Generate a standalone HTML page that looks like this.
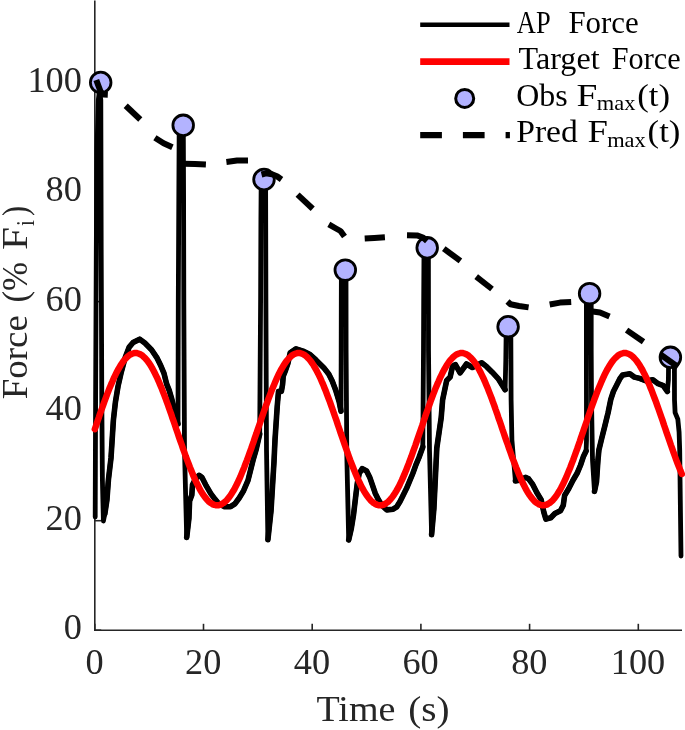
<!DOCTYPE html>
<html><head><meta charset="utf-8"><style>
html,body{margin:0;padding:0;background:#fff;}
svg{display:block;}
text{font-family:"Liberation Serif",serif;fill:#262626;}
.t{font-size:36.3px;}
.l{font-size:36.7px;}
.sub{font-size:26px;}
.g{font-size:31.5px;fill:#000;}
.gs{font-size:21.5px;fill:#000;}
</style></head><body>
<svg width="685" height="730" viewBox="0 0 685 730">
<line x1="94.8" y1="0.5" x2="94.8" y2="630.2" stroke="#262626" stroke-width="1.6"/>
<line x1="94" y1="630.2" x2="682" y2="630.2" stroke="#262626" stroke-width="1.6"/>
<line x1="94.8" y1="630.2" x2="101.2" y2="630.2" stroke="#262626" stroke-width="1.6"/>
<line x1="94.8" y1="630.2" x2="94.8" y2="623.8" stroke="#262626" stroke-width="1.6"/>
<line x1="94.8" y1="520.7" x2="101.2" y2="520.7" stroke="#262626" stroke-width="1.6"/>
<line x1="203.5" y1="630.2" x2="203.5" y2="623.8" stroke="#262626" stroke-width="1.6"/>
<line x1="94.8" y1="411.1" x2="101.2" y2="411.1" stroke="#262626" stroke-width="1.6"/>
<line x1="312.2" y1="630.2" x2="312.2" y2="623.8" stroke="#262626" stroke-width="1.6"/>
<line x1="94.8" y1="301.6" x2="101.2" y2="301.6" stroke="#262626" stroke-width="1.6"/>
<line x1="420.9" y1="630.2" x2="420.9" y2="623.8" stroke="#262626" stroke-width="1.6"/>
<line x1="94.8" y1="192.0" x2="101.2" y2="192.0" stroke="#262626" stroke-width="1.6"/>
<line x1="529.6" y1="630.2" x2="529.6" y2="623.8" stroke="#262626" stroke-width="1.6"/>
<line x1="94.8" y1="82.5" x2="101.2" y2="82.5" stroke="#262626" stroke-width="1.6"/>
<line x1="638.3" y1="630.2" x2="638.3" y2="623.8" stroke="#262626" stroke-width="1.6"/>
<text x="81.9" y="639.2" text-anchor="end" class="t">0</text>
<text x="94.5" y="674.3" text-anchor="middle" class="t">0</text>
<text x="81.9" y="529.7" text-anchor="end" class="t">20</text>
<text x="203.2" y="674.3" text-anchor="middle" class="t">20</text>
<text x="81.9" y="420.1" text-anchor="end" class="t">40</text>
<text x="311.9" y="674.3" text-anchor="middle" class="t">40</text>
<text x="81.9" y="310.6" text-anchor="end" class="t">60</text>
<text x="420.6" y="674.3" text-anchor="middle" class="t">60</text>
<text x="81.9" y="201.0" text-anchor="end" class="t">80</text>
<text x="529.3" y="674.3" text-anchor="middle" class="t">80</text>
<text x="81.9" y="91.5" text-anchor="end" class="t">100</text>
<text x="638.0" y="674.3" text-anchor="middle" class="t">100</text>
<polyline points="95.2,517.0 95.6,400.0 96.3,250.0 97.0,150.0 98.3,100.0 99.5,90.0 100.8,100.0 101.2,250.0 101.8,400.0 102.4,480.0 103.4,521.0 104.8,514.0 106.9,500.0 108.4,480.0 111.0,458.0 113.4,420.0 115.4,402.3 118.0,386.5 121.3,372.0 125.2,357.6 129.2,347.1 133.1,342.5 139.7,339.2 144.9,343.1 151.5,349.7 156.8,357.6 160.7,365.5 164.0,373.4 166.6,383.9 169.2,390.4 171.9,399.6 173.8,407.5 175.8,416.7 178.0,424.0 178.3,300.0 178.8,200.0 179.2,125.0 183.3,125.0 183.6,200.0 183.8,300.0 184.5,450.0 186.7,537.4 188.9,518.4 189.6,500.9 191.8,495.0 192.5,484.8 195.4,479.0 199.1,475.3 202.0,477.5 205.7,484.8 210.8,493.6 215.1,499.4 218.8,503.8 224.6,506.7 230.5,506.7 234.9,503.8 239.2,498.0 243.6,490.7 248.0,480.4 250.9,468.8 253.1,460.0 256.0,450.0 259.7,434.0 260.6,300.0 260.9,220.0 261.2,180.0 265.6,180.0 265.9,300.0 266.5,450.0 267.9,539.7 271.0,511.0 274.0,461.6 275.0,440.0 277.3,405.4 278.5,391.4 281.4,391.4 282.6,384.4 283.2,376.2 285.5,370.4 287.9,363.4 290.2,352.8 296.0,348.8 303.0,351.1 310.0,354.6 315.9,359.9 319.4,363.4 324.0,368.0 328.7,373.9 332.2,380.9 335.7,390.2 339.2,401.9 341.0,411.2 341.2,350.0 341.3,300.0 341.4,270.0 346.0,270.0 346.1,350.0 346.8,455.0 348.7,540.0 351.2,529.0 353.6,514.2 355.5,498.1 357.3,483.4 359.2,473.5 362.3,468.6 366.6,471.0 369.7,477.2 372.7,485.8 375.2,493.2 378.3,499.4 382.0,505.5 386.9,509.9 393.1,509.2 396.8,506.8 399.9,501.8 402.9,495.7 406.6,488.3 409.7,480.9 412.8,473.5 415.9,464.9 419.0,457.5 422.8,447.0 423.5,350.0 423.7,300.0 424.0,250.0 428.4,250.0 428.5,350.0 429.5,450.0 431.6,534.7 433.9,508.4 436.8,448.0 441.2,417.6 442.6,400.0 446.7,380.4 450.2,376.9 452.5,366.4 455.4,364.6 460.1,372.8 466.5,364.0 472.4,367.5 481.7,362.8 486.4,366.4 492.2,372.2 498.6,379.2 505.1,389.7 505.8,360.0 506.2,330.0 510.8,330.0 511.1,400.0 511.9,440.0 515.4,480.9 518.9,480.2 525.8,477.4 528.6,478.8 532.7,484.4 536.9,492.7 541.1,499.6 543.8,512.1 545.9,519.1 550.8,517.7 554.9,513.5 560.5,510.7 563.3,505.2 564.6,495.5 568.8,488.5 573.0,480.2 577.1,473.3 580.6,465.0 583.4,456.6 586.1,451.1 586.5,440.0 586.4,350.0 586.4,300.0 591.2,300.0 591.2,350.0 591.5,400.0 592.5,460.0 594.5,491.3 596.5,481.6 597.9,460.8 598.9,450.0 601.6,438.8 604.9,425.7 608.1,412.6 610.8,399.4 613.4,391.5 616.7,385.0 620.0,378.4 622.6,375.1 629.8,373.8 634.4,377.1 639.7,378.4 646.2,381.0 652.8,379.7 658.1,383.7 663.3,385.6 667.3,391.5 668.4,380.0 668.6,360.0 674.4,360.0 674.5,400.0 675.1,412.6 677.8,419.1 679.1,432.3 679.7,450.0 680.3,500.0 681.0,556.0" fill="none" stroke="#000" stroke-width="4.8" stroke-linejoin="round" stroke-linecap="round"/>
<polyline points="104.8,514.0 106.9,500.0 108.4,480.0 111.0,458.0 113.4,420.0 115.4,402.3 118.0,386.5 121.3,372.0 125.2,357.6 129.2,347.1 133.1,342.5 139.7,339.2 144.9,343.1 151.5,349.7 156.8,357.6 160.7,365.5 164.0,373.4 166.6,383.9 169.2,390.4 171.9,399.6 173.8,407.5 175.8,416.7 178.0,424.0" fill="none" stroke="#000" stroke-width="5.6" stroke-linejoin="round" stroke-linecap="round"/>
<polyline points="186.7,537.4 188.9,518.4 189.6,500.9 191.8,495.0 192.5,484.8 195.4,479.0 199.1,475.3 202.0,477.5 205.7,484.8 210.8,493.6 215.1,499.4 218.8,503.8 224.6,506.7 230.5,506.7 234.9,503.8 239.2,498.0 243.6,490.7 248.0,480.4 250.9,468.8 253.1,460.0 256.0,450.0 259.7,434.0" fill="none" stroke="#000" stroke-width="5.6" stroke-linejoin="round" stroke-linecap="round"/>
<polyline points="267.9,539.7 271.0,511.0 274.0,461.6 275.0,440.0 277.3,405.4 278.5,391.4 281.4,391.4 282.6,384.4 283.2,376.2 285.5,370.4 287.9,363.4 290.2,352.8 296.0,348.8 303.0,351.1 310.0,354.6 315.9,359.9 319.4,363.4 324.0,368.0 328.7,373.9 332.2,380.9 335.7,390.2 339.2,401.9 341.0,411.2" fill="none" stroke="#000" stroke-width="5.6" stroke-linejoin="round" stroke-linecap="round"/>
<polyline points="348.7,540.0 351.2,529.0 353.6,514.2 355.5,498.1 357.3,483.4 359.2,473.5 362.3,468.6 366.6,471.0 369.7,477.2 372.7,485.8 375.2,493.2 378.3,499.4 382.0,505.5 386.9,509.9 393.1,509.2 396.8,506.8 399.9,501.8 402.9,495.7 406.6,488.3 409.7,480.9 412.8,473.5 415.9,464.9 419.0,457.5 422.8,447.0" fill="none" stroke="#000" stroke-width="5.6" stroke-linejoin="round" stroke-linecap="round"/>
<polyline points="431.6,534.7 433.9,508.4 436.8,448.0 441.2,417.6 442.6,400.0 446.7,380.4 450.2,376.9 452.5,366.4 455.4,364.6 460.1,372.8 466.5,364.0 472.4,367.5 481.7,362.8 486.4,366.4 492.2,372.2 498.6,379.2 505.1,389.7" fill="none" stroke="#000" stroke-width="5.6" stroke-linejoin="round" stroke-linecap="round"/>
<polyline points="515.4,480.9 518.9,480.2 525.8,477.4 528.6,478.8 532.7,484.4 536.9,492.7 541.1,499.6 543.8,512.1 545.9,519.1 550.8,517.7 554.9,513.5 560.5,510.7 563.3,505.2 564.6,495.5 568.8,488.5 573.0,480.2 577.1,473.3 580.6,465.0 583.4,456.6 586.1,451.1" fill="none" stroke="#000" stroke-width="5.6" stroke-linejoin="round" stroke-linecap="round"/>
<polyline points="594.5,491.3 596.5,481.6 597.9,460.8 598.9,450.0 601.6,438.8 604.9,425.7 608.1,412.6 610.8,399.4 613.4,391.5 616.7,385.0 620.0,378.4 622.6,375.1 629.8,373.8 634.4,377.1 639.7,378.4 646.2,381.0 652.8,379.7 658.1,383.7 663.3,385.6 667.3,391.5" fill="none" stroke="#000" stroke-width="5.6" stroke-linejoin="round" stroke-linecap="round"/>
<polyline points="94.8,429.2 96.2,425.2 97.5,421.2 98.9,417.3 100.2,413.3 101.6,409.5 103.0,405.6 104.3,401.9 105.7,398.2 107.0,394.6 108.4,391.1 109.7,387.7 111.1,384.4 112.5,381.3 113.8,378.2 115.2,375.3 116.5,372.6 117.9,370.0 119.3,367.6 120.6,365.3 122.0,363.2 123.3,361.3 124.7,359.6 126.1,358.1 127.4,356.8 128.8,355.6 130.1,354.7 131.5,354.0 132.8,353.5 134.2,353.1 135.6,353.0 136.9,353.1 138.3,353.5 139.6,354.0 141.0,354.7 142.4,355.6 143.7,356.8 145.1,358.1 146.4,359.6 147.8,361.3 149.1,363.2 150.5,365.3 151.9,367.6 153.2,370.0 154.6,372.6 155.9,375.3 157.3,378.2 158.7,381.3 160.0,384.4 161.4,387.7 162.7,391.1 164.1,394.6 165.5,398.2 166.8,401.9 168.2,405.6 169.5,409.5 170.9,413.3 172.2,417.3 173.6,421.2 175.0,425.2 176.3,429.2 177.7,433.2 179.0,437.1 180.4,441.1 181.8,445.0 183.1,448.9 184.5,452.7 185.8,456.5 187.2,460.1 188.6,463.7 189.9,467.2 191.3,470.6 192.6,473.9 194.0,477.1 195.3,480.1 196.7,483.0 198.1,485.8 199.4,488.3 200.8,490.8 202.1,493.0 203.5,495.1 204.9,497.0 206.2,498.7 207.6,500.3 208.9,501.6 210.3,502.7 211.7,503.6 213.0,504.4 214.4,504.9 215.7,505.2 217.1,505.3 218.4,505.2 219.8,504.9 221.2,504.4 222.5,503.6 223.9,502.7 225.2,501.6 226.6,500.3 228.0,498.7 229.3,497.0 230.7,495.1 232.0,493.0 233.4,490.8 234.8,488.3 236.1,485.8 237.5,483.0 238.8,480.1 240.2,477.1 241.5,473.9 242.9,470.6 244.3,467.2 245.6,463.7 247.0,460.1 248.3,456.5 249.7,452.7 251.1,448.9 252.4,445.0 253.8,441.1 255.1,437.1 256.5,433.2 257.8,429.2 259.2,425.2 260.6,421.2 261.9,417.3 263.3,413.3 264.6,409.5 266.0,405.6 267.4,401.9 268.7,398.2 270.1,394.6 271.4,391.1 272.8,387.7 274.2,384.4 275.5,381.3 276.9,378.2 278.2,375.3 279.6,372.6 280.9,370.0 282.3,367.6 283.7,365.3 285.0,363.2 286.4,361.3 287.7,359.6 289.1,358.1 290.5,356.8 291.8,355.6 293.2,354.7 294.5,354.0 295.9,353.5 297.3,353.1 298.6,353.0 300.0,353.1 301.3,353.5 302.7,354.0 304.0,354.7 305.4,355.6 306.8,356.8 308.1,358.1 309.5,359.6 310.8,361.3 312.2,363.2 313.6,365.3 314.9,367.6 316.3,370.0 317.6,372.6 319.0,375.3 320.4,378.2 321.7,381.3 323.1,384.4 324.4,387.7 325.8,391.1 327.1,394.6 328.5,398.2 329.9,401.9 331.2,405.6 332.6,409.5 333.9,413.3 335.3,417.3 336.7,421.2 338.0,425.2 339.4,429.2 340.7,433.2 342.1,437.1 343.5,441.1 344.8,445.0 346.2,448.9 347.5,452.7 348.9,456.5 350.2,460.1 351.6,463.7 353.0,467.2 354.3,470.6 355.7,473.9 357.0,477.1 358.4,480.1 359.8,483.0 361.1,485.8 362.5,488.3 363.8,490.8 365.2,493.0 366.6,495.1 367.9,497.0 369.3,498.7 370.6,500.3 372.0,501.6 373.3,502.7 374.7,503.6 376.1,504.4 377.4,504.9 378.8,505.2 380.1,505.3 381.5,505.2 382.9,504.9 384.2,504.4 385.6,503.6 386.9,502.7 388.3,501.6 389.6,500.3 391.0,498.7 392.4,497.0 393.7,495.1 395.1,493.0 396.4,490.8 397.8,488.3 399.2,485.8 400.5,483.0 401.9,480.1 403.2,477.1 404.6,473.9 406.0,470.6 407.3,467.2 408.7,463.7 410.0,460.1 411.4,456.5 412.7,452.7 414.1,448.9 415.5,445.0 416.8,441.1 418.2,437.1 419.5,433.2 420.9,429.2 422.3,425.2 423.6,421.2 425.0,417.3 426.3,413.3 427.7,409.5 429.1,405.6 430.4,401.9 431.8,398.2 433.1,394.6 434.5,391.1 435.8,387.7 437.2,384.4 438.6,381.3 439.9,378.2 441.3,375.3 442.6,372.6 444.0,370.0 445.4,367.6 446.7,365.3 448.1,363.2 449.4,361.3 450.8,359.6 452.2,358.1 453.5,356.8 454.9,355.6 456.2,354.7 457.6,354.0 458.9,353.5 460.3,353.1 461.7,353.0 463.0,353.1 464.4,353.5 465.7,354.0 467.1,354.7 468.5,355.6 469.8,356.8 471.2,358.1 472.5,359.6 473.9,361.3 475.2,363.2 476.6,365.3 478.0,367.6 479.3,370.0 480.7,372.6 482.0,375.3 483.4,378.2 484.8,381.3 486.1,384.4 487.5,387.7 488.8,391.1 490.2,394.6 491.6,398.2 492.9,401.9 494.3,405.6 495.6,409.5 497.0,413.3 498.3,417.3 499.7,421.2 501.1,425.2 502.4,429.2 503.8,433.2 505.1,437.1 506.5,441.1 507.9,445.0 509.2,448.9 510.6,452.7 511.9,456.5 513.3,460.1 514.7,463.7 516.0,467.2 517.4,470.6 518.7,473.9 520.1,477.1 521.4,480.1 522.8,483.0 524.2,485.8 525.5,488.3 526.9,490.8 528.2,493.0 529.6,495.1 531.0,497.0 532.3,498.7 533.7,500.3 535.0,501.6 536.4,502.7 537.8,503.6 539.1,504.4 540.5,504.9 541.8,505.2 543.2,505.3 544.5,505.2 545.9,504.9 547.3,504.4 548.6,503.6 550.0,502.7 551.3,501.6 552.7,500.3 554.1,498.7 555.4,497.0 556.8,495.1 558.1,493.0 559.5,490.8 560.9,488.3 562.2,485.8 563.6,483.0 564.9,480.1 566.3,477.1 567.6,473.9 569.0,470.6 570.4,467.2 571.7,463.7 573.1,460.1 574.4,456.5 575.8,452.7 577.2,448.9 578.5,445.0 579.9,441.1 581.2,437.1 582.6,433.2 583.9,429.2 585.3,425.2 586.7,421.2 588.0,417.3 589.4,413.3 590.7,409.5 592.1,405.6 593.5,401.9 594.8,398.2 596.2,394.6 597.5,391.1 598.9,387.7 600.3,384.4 601.6,381.3 603.0,378.2 604.3,375.3 605.7,372.6 607.0,370.0 608.4,367.6 609.8,365.3 611.1,363.2 612.5,361.3 613.8,359.6 615.2,358.1 616.6,356.8 617.9,355.6 619.3,354.7 620.6,354.0 622.0,353.5 623.4,353.1 624.7,353.0 626.1,353.1 627.4,353.5 628.8,354.0 630.1,354.7 631.5,355.6 632.9,356.8 634.2,358.1 635.6,359.6 636.9,361.3 638.3,363.2 639.7,365.3 641.0,367.6 642.4,370.0 643.7,372.6 645.1,375.3 646.5,378.2 647.8,381.3 649.2,384.4 650.5,387.7 651.9,391.1 653.2,394.6 654.6,398.2 656.0,401.9 657.3,405.6 658.7,409.5 660.0,413.3 661.4,417.3 662.8,421.2 664.1,425.2 665.5,429.2 666.8,433.2 668.2,437.1 669.6,441.1 670.9,445.0 672.3,448.9 673.6,452.7 675.0,456.5 676.3,460.1 677.7,463.7 679.1,467.2 680.4,470.6 681.8,473.9" fill="none" stroke="#f00" stroke-width="6.5" stroke-linejoin="round" stroke-linecap="round"/>
<circle cx="100.7" cy="82.5" r="10.3" fill="#b3b3ff" stroke="#000" stroke-width="2.8"/>
<circle cx="183.2" cy="125.3" r="10.3" fill="#b3b3ff" stroke="#000" stroke-width="2.8"/>
<circle cx="264.0" cy="179.5" r="10.3" fill="#b3b3ff" stroke="#000" stroke-width="2.8"/>
<circle cx="345.3" cy="270.1" r="10.3" fill="#b3b3ff" stroke="#000" stroke-width="2.8"/>
<circle cx="427.2" cy="247.8" r="10.3" fill="#b3b3ff" stroke="#000" stroke-width="2.8"/>
<circle cx="508.1" cy="326.7" r="10.3" fill="#b3b3ff" stroke="#000" stroke-width="2.8"/>
<circle cx="589.6" cy="293.6" r="10.3" fill="#b3b3ff" stroke="#000" stroke-width="2.8"/>
<circle cx="670.4" cy="357.3" r="10.3" fill="#b3b3ff" stroke="#000" stroke-width="2.8"/>
<polyline points="96.3,80.0 98.3,85.5 100.6,91.5 103.5,94.6 107.8,94.8" fill="none" stroke="#000" stroke-width="6" stroke-linejoin="round" stroke-linecap="butt"/>
<polyline points="125.7,105.7 140.3,119.5" fill="none" stroke="#000" stroke-width="6" stroke-linejoin="round" stroke-linecap="butt"/>
<polyline points="154.9,137.8 163.6,143.3 172.4,147.3" fill="none" stroke="#000" stroke-width="6" stroke-linejoin="round" stroke-linecap="butt"/>
<polyline points="184.0,163.8 195.0,163.9 205.9,164.4" fill="none" stroke="#000" stroke-width="6" stroke-linejoin="round" stroke-linecap="butt"/>
<polyline points="226.4,161.9 237.0,160.6 248.0,160.5" fill="none" stroke="#000" stroke-width="6" stroke-linejoin="round" stroke-linecap="butt"/>
<polyline points="261.5,174.5 266.0,173.3 272.0,174.3 277.0,176.3 281.5,179.5" fill="none" stroke="#000" stroke-width="6" stroke-linejoin="round" stroke-linecap="butt"/>
<polyline points="297.6,194.6 312.7,208.7" fill="none" stroke="#000" stroke-width="6" stroke-linejoin="round" stroke-linecap="butt"/>
<polyline points="328.8,224.4 336.0,228.5 340.5,231.0 344.5,236.5" fill="none" stroke="#000" stroke-width="6" stroke-linejoin="round" stroke-linecap="butt"/>
<polyline points="364.7,238.4 374.3,237.9 384.9,237.2" fill="none" stroke="#000" stroke-width="6" stroke-linejoin="round" stroke-linecap="butt"/>
<polyline points="407.0,235.2 417.0,235.4 423.0,237.5 427.0,241.0" fill="none" stroke="#000" stroke-width="6" stroke-linejoin="round" stroke-linecap="butt"/>
<polyline points="443.8,248.7 460.4,260.9" fill="none" stroke="#000" stroke-width="6" stroke-linejoin="round" stroke-linecap="butt"/>
<polyline points="476.2,276.7 492.0,289.0" fill="none" stroke="#000" stroke-width="6" stroke-linejoin="round" stroke-linecap="butt"/>
<polyline points="507.5,301.5 510.5,304.3 519.0,306.0 528.6,307.4" fill="none" stroke="#000" stroke-width="6" stroke-linejoin="round" stroke-linecap="butt"/>
<polyline points="549.7,304.5 560.0,302.6 571.2,302.0" fill="none" stroke="#000" stroke-width="6" stroke-linejoin="round" stroke-linecap="butt"/>
<polyline points="589.0,311.0 600.0,312.5 609.5,316.5" fill="none" stroke="#000" stroke-width="6" stroke-linejoin="round" stroke-linecap="butt"/>
<polyline points="626.6,330.1 643.5,341.8" fill="none" stroke="#000" stroke-width="6" stroke-linejoin="round" stroke-linecap="butt"/>
<polyline points="660.5,354.5 678.0,367.0" fill="none" stroke="#000" stroke-width="6" stroke-linejoin="round" stroke-linecap="butt"/>
<rect x="415" y="4" width="270" height="150" fill="#fff"/>
<line x1="420.2" y1="24.8" x2="509.5" y2="24.8" stroke="#000" stroke-width="4.6"/>
<line x1="420.2" y1="61.6" x2="509.5" y2="61.6" stroke="#f00" stroke-width="6.6"/>
<circle cx="464.7" cy="98.4" r="9" fill="#b2b2ff" stroke="#000" stroke-width="3"/>
<line x1="420.2" y1="135.1" x2="509.9" y2="135.1" stroke="#000" stroke-width="6.2" stroke-dasharray="21.7 21"/>
<text x="516.80" y="32.60" class="g" textLength="33.79" lengthAdjust="spacingAndGlyphs">AP</text>
<text x="568.40" y="32.60" class="g" textLength="70.40" lengthAdjust="spacingAndGlyphs">Force</text>
<text x="518.60" y="68.70" class="g" textLength="81.00" lengthAdjust="spacingAndGlyphs">Target</text>
<text x="611.80" y="68.70" class="g" textLength="68.78" lengthAdjust="spacingAndGlyphs">Force</text>
<text x="516.20" y="105.70" class="g" textLength="51.40" lengthAdjust="spacingAndGlyphs">Obs</text>
<text x="576.60" y="105.70" class="g" textLength="20.83" lengthAdjust="spacingAndGlyphs">F</text>
<text x="596.80" y="109.60" class="gs" textLength="38.57" lengthAdjust="spacingAndGlyphs">max</text>
<text x="637.20" y="105.70" class="g" textLength="32.85" lengthAdjust="spacingAndGlyphs">(t)</text>
<text x="516.20" y="142.40" class="g" textLength="61.61" lengthAdjust="spacingAndGlyphs">Pred</text>
<text x="587.40" y="142.40" class="g" textLength="20.40" lengthAdjust="spacingAndGlyphs">F</text>
<text x="607.20" y="146.50" class="gs" textLength="38.57" lengthAdjust="spacingAndGlyphs">max</text>
<text x="647.60" y="142.40" class="g" textLength="32.85" lengthAdjust="spacingAndGlyphs">(t)</text>
<text x="316.40" y="720.50" class="l" textLength="78.99" lengthAdjust="spacingAndGlyphs">Time</text>
<text x="408.20" y="720.50" class="l" textLength="41.32" lengthAdjust="spacingAndGlyphs">(s)</text>
<text transform="rotate(-90)" x="-399.20" y="27.20" class="l" textLength="83.99" lengthAdjust="spacingAndGlyphs">Force</text>
<text transform="rotate(-90)" x="-302.60" y="27.20" class="l" textLength="40.62" lengthAdjust="spacingAndGlyphs">(%</text>
<text transform="rotate(-90)" x="-250.00" y="27.20" class="l" textLength="23.08" lengthAdjust="spacingAndGlyphs">F</text>
<text transform="rotate(-90)" x="-226.00" y="33.50" class="sub" textLength="5.80" lengthAdjust="spacingAndGlyphs">i</text>
<text transform="rotate(-90)" x="-216.00" y="27.20" class="l" textLength="10.00" lengthAdjust="spacingAndGlyphs">)</text>
</svg>
</body></html>
